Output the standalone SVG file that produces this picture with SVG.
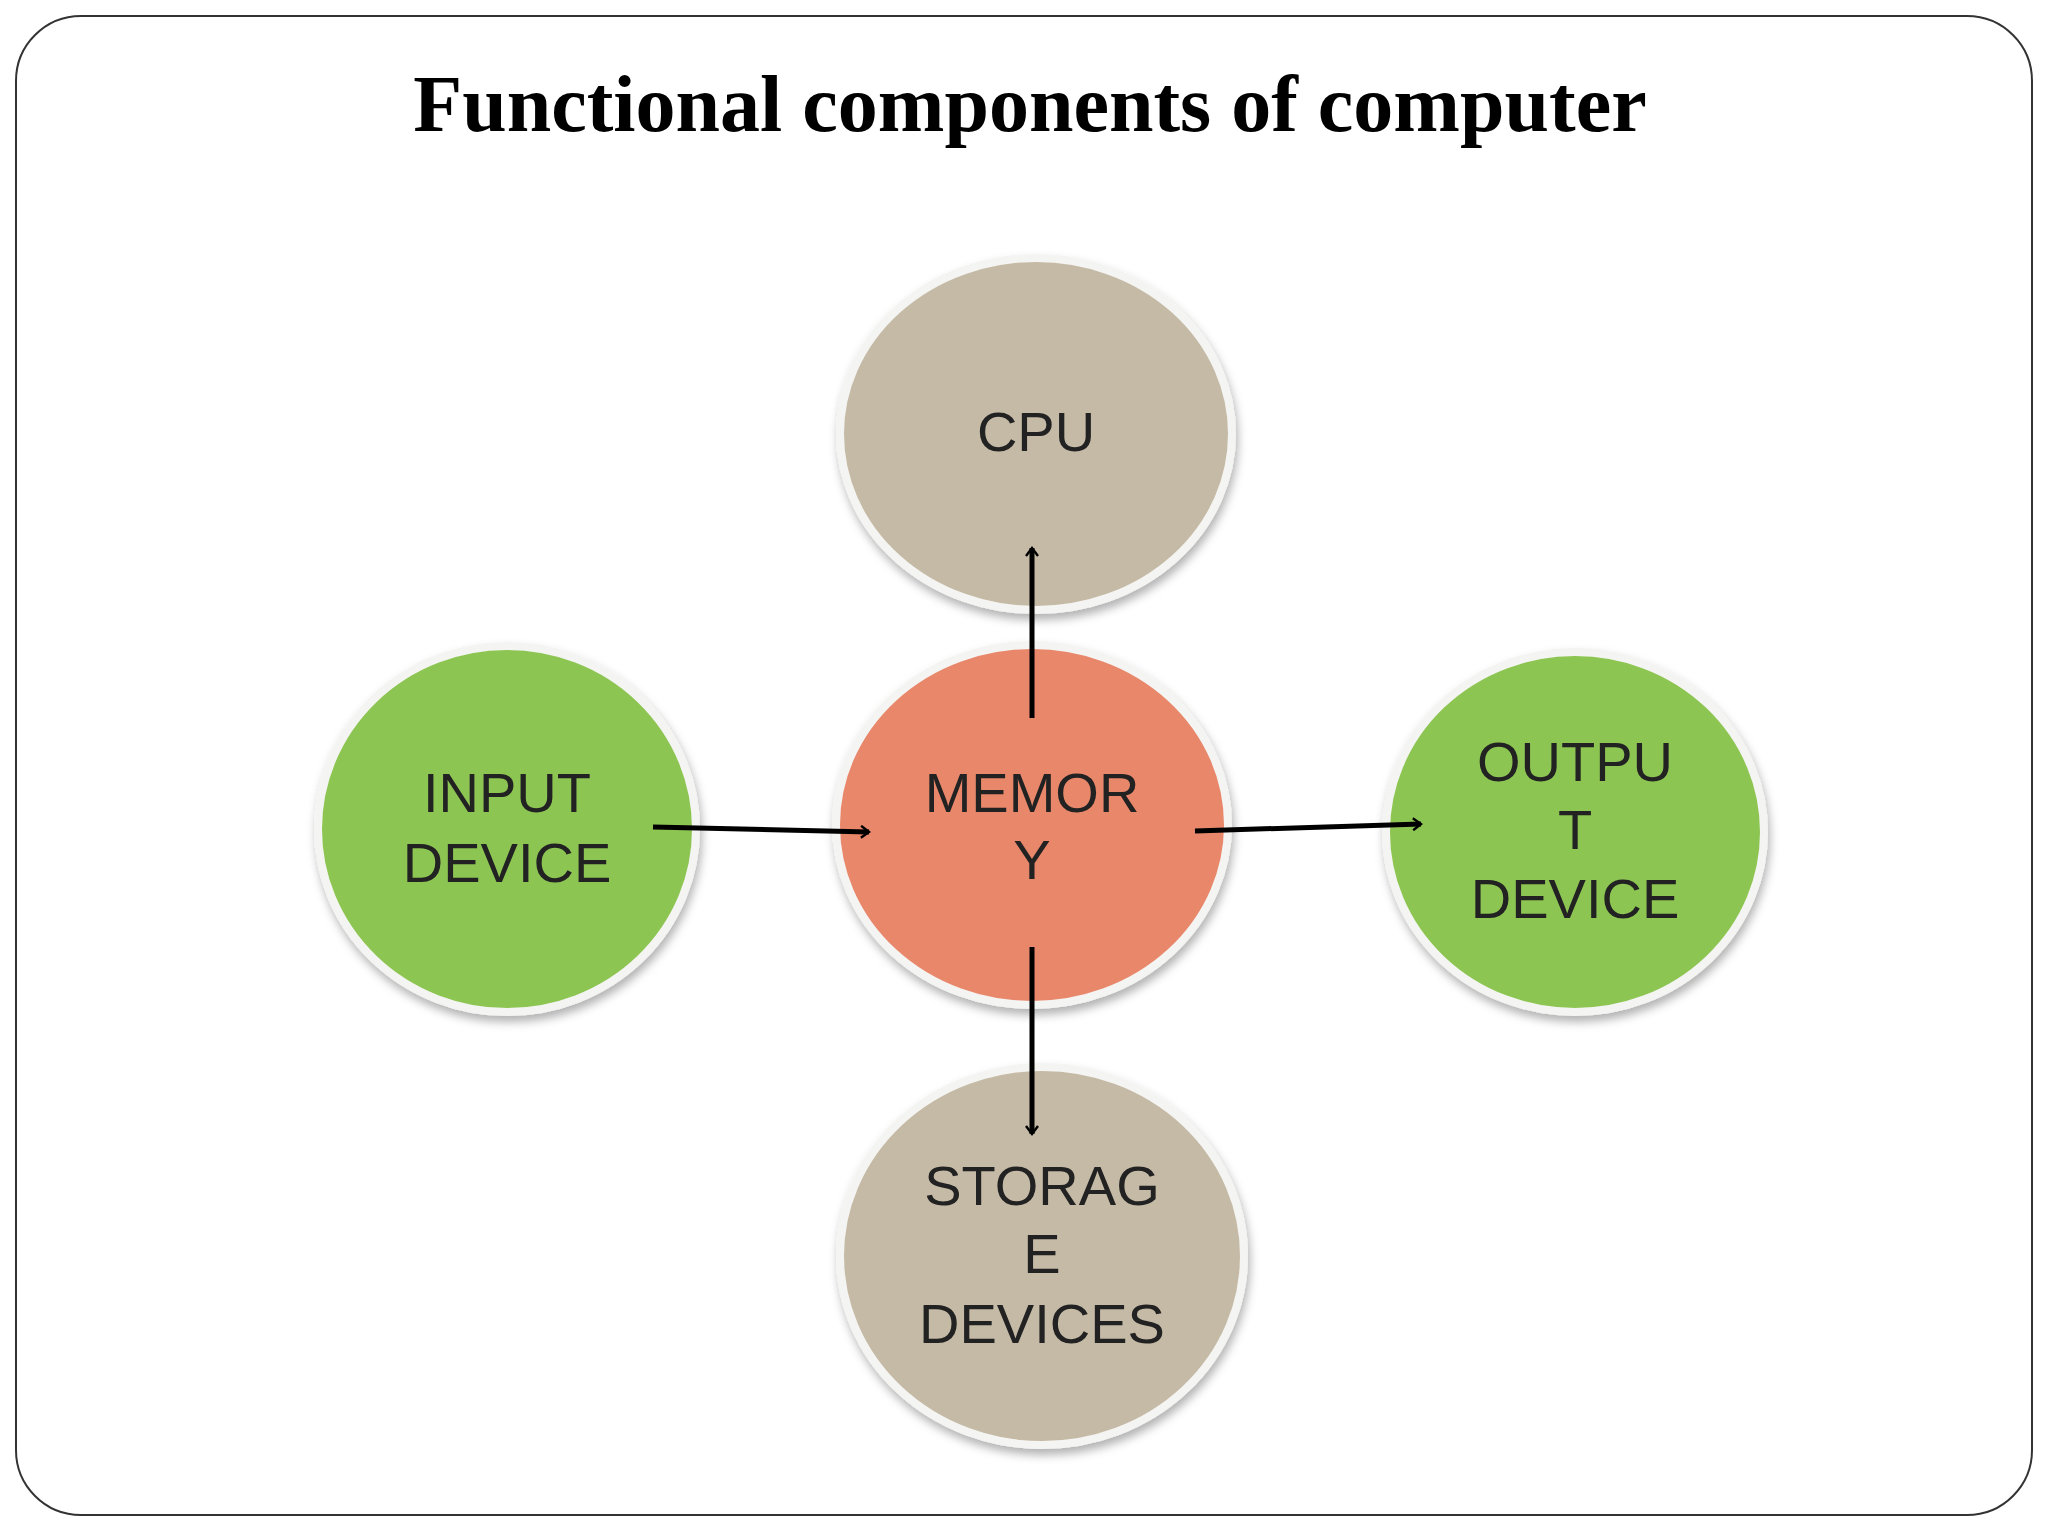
<svg xmlns="http://www.w3.org/2000/svg" width="2048" height="1536" viewBox="0 0 2048 1536">
<style>
.node{stroke:#f4f4f2;stroke-width:8}
.lbl{font-family:"Liberation Sans",Arial,sans-serif;font-size:56px;fill:#222;text-anchor:middle}
.c{stroke:#000;stroke-width:5;fill:none;marker-end:url(#ah)}
</style>
<defs>
<marker id="ah" markerWidth="14" markerHeight="14" refX="10" refY="7" orient="auto" markerUnits="userSpaceOnUse" viewBox="0 0 14 14">
<path d="M2,1 L10,7 L2,13" fill="none" stroke="#000" stroke-width="2.4"/>
</marker>
<filter id="sh" x="-20%" y="-20%" width="140%" height="140%"><feDropShadow dx="2" dy="6" stdDeviation="5" flood-color="#000" flood-opacity="0.3"/></filter>
</defs>
<rect width="2048" height="1536" fill="#fff"/>
<rect x="16" y="16" width="2016" height="1499" rx="65" fill="#fff" stroke="#333" stroke-width="2"/>
<text x="1030" y="131" font-family="'Liberation Serif',serif" font-weight="bold" font-size="80" text-anchor="middle" fill="#000">Functional components of computer</text>
<g id="cpu"><ellipse class="node" cx="1036" cy="434" rx="196" ry="176" fill="#c5baa5" filter="url(#sh)"/><text class="lbl" x="1036" y="451">CPU</text></g>
<g id="memory"><ellipse class="node" cx="1032" cy="825" rx="196" ry="180" fill="#e8876a" filter="url(#sh)"/><text class="lbl" x="1032" y="812">MEMOR</text><text class="lbl" x="1032" y="879">Y</text></g>
<g id="input"><ellipse class="node" cx="507" cy="829" rx="189" ry="183" fill="#8dc552" filter="url(#sh)"/><text class="lbl" x="507" y="812">INPUT</text><text class="lbl" x="507" y="882">DEVICE</text></g>
<g id="output"><ellipse class="node" cx="1575" cy="832" rx="189" ry="180" fill="#8dc552" filter="url(#sh)"/><text class="lbl" x="1575" y="781">OUTPU</text><text class="lbl" x="1575" y="849">T</text><text class="lbl" x="1575" y="918">DEVICE</text></g>
<g id="storage"><ellipse class="node" cx="1042" cy="1256" rx="202" ry="189" fill="#c5baa5" filter="url(#sh)"/><text class="lbl" x="1042" y="1205">STORAG</text><text class="lbl" x="1042" y="1273">E</text><text class="lbl" x="1042" y="1343">DEVICES</text></g>
<g id="connectors">
<line class="c" x1="1032" y1="718" x2="1032" y2="548"/>
<line class="c" x1="653" y1="827" x2="869" y2="832"/>
<line class="c" x1="1195" y1="831" x2="1421" y2="824"/>
<line class="c" x1="1032" y1="947" x2="1032" y2="1134"/>
</g>
</svg>
